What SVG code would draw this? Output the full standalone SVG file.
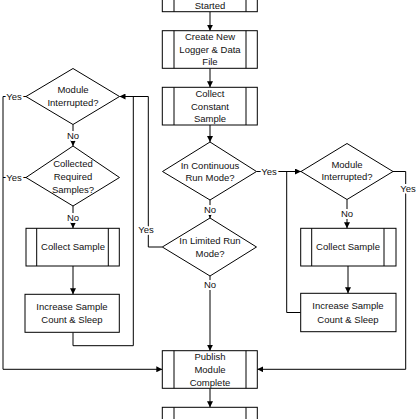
<svg xmlns="http://www.w3.org/2000/svg" width="419" height="419" viewBox="0 0 419 419">
<defs>
<marker id="ah" viewBox="0 0 10 10" refX="10" refY="5" markerWidth="6" markerHeight="6" orient="auto" markerUnits="userSpaceOnUse">
<path d="M0,0 L10,5 L0,10 z" fill="#000"/>
</marker>
<style>
.n{fill:#fff;stroke:#000;stroke-width:1}
.il{stroke:#000;stroke-width:1;fill:none}
.c{fill:none;stroke:#000;stroke-width:1}
.ca{fill:none;stroke:#000;stroke-width:1;marker-end:url(#ah)}
text{font-family:"Liberation Sans",Arial,sans-serif;font-size:9.5px;fill:#111;text-anchor:middle}
.lb{paint-order:stroke;stroke:#fff;stroke-width:4px;stroke-linejoin:round}
</style>
</defs>
<rect width="419" height="419" fill="#fff"/>
<g id="connectors">
<path class="ca" d="M210,11.7 V30.7"/>
<path class="ca" d="M210,68.3 V87.3"/>
<path class="ca" d="M210,125 V142"/>
<path class="ca" d="M210,200 V218"/>
<path class="ca" d="M210,276 V350.7"/>
<path class="ca" d="M210,388.3 V407.3"/>
<path class="ca" d="M162.3,247 H148.3 V96.5 H119.5"/>
<path class="c" d="M73,332.3 V345.7 H133.3 V96.5"/>
<path class="ca" d="M73,124.5 V146"/>
<path class="ca" d="M73,206 V228.3"/>
<path class="ca" d="M73,266 V294.3"/>
<path class="ca" d="M26,96.5 H3 V369.3 H162.3"/>
<path class="c" d="M26,177.5 H3"/>
<path class="ca" d="M256.5,171.5 H301"/>
<path class="c" d="M300.7,312.5 H286.7 V171.5"/>
<path class="ca" d="M347,199.5 V228.3"/>
<path class="ca" d="M348,266 V293.3"/>
<path class="ca" d="M393,171.5 H405.7 V369.3 H257.3"/>
</g>
<g id="labels">
<text class="lb" x="14" y="100">Yes</text>
<text class="lb" x="14" y="181">Yes</text>
<text class="lb" x="73" y="139">No</text>
<text class="lb" x="73" y="221">No</text>
<text class="lb" x="210" y="213">No</text>
<text class="lb" x="210" y="288">No</text>
<text class="lb" x="146" y="233">Yes</text>
<text class="lb" x="269" y="175">Yes</text>
<text class="lb" x="347" y="216.5">No</text>
<text class="lb" x="408" y="192">Yes</text>
</g>
<g id="started">
<rect class="n" x="162.3" y="-27" width="95" height="38.7"/>
<path class="il" d="M174,-27 V11.7 M246,-27 V11.7"/>
<text x="210" y="8.5">Started</text>
</g>
<g id="create-logger">
<rect class="n" x="162.3" y="30.7" width="95" height="37.6"/>
<path class="il" d="M174,30.7 V68.3 M246,30.7 V68.3"/>
<text x="210" y="40">Create New</text>
<text x="210" y="53">Logger &amp; Data</text>
<text x="210" y="65">File</text>
</g>
<g id="collect-constant">
<rect class="n" x="162.3" y="87.3" width="95" height="37.7"/>
<path class="il" d="M174,87.3 V125 M246,87.3 V125"/>
<text x="210" y="96.5">Collect</text>
<text x="210" y="109.5">Constant</text>
<text x="210" y="121.5">Sample</text>
</g>
<g id="continuous-mode">
<path class="n" d="M210,142 L256.5,171.5 L210,200 L162.5,171.5 Z"/>
<text x="210" y="169">In Continuous</text>
<text x="210" y="181">Run Mode?</text>
</g>
<g id="limited-mode">
<path class="n" d="M210,218 L256.5,247 L210,276 L162.3,247 Z"/>
<text x="210" y="244">In Limited Run</text>
<text x="210" y="256.5">Mode?</text>
</g>
<g id="left-interrupted">
<path class="n" d="M73,68.5 L119.5,96.5 L73,124.5 L26,96.5 Z"/>
<text x="73" y="93">Module</text>
<text x="73" y="106">Interrupted?</text>
</g>
<g id="collected-required">
<path class="n" d="M73,146 L119.5,177.5 L73,206 L26,177.5 Z"/>
<text x="73" y="166.5">Collected</text>
<text x="73" y="180">Required</text>
<text x="73" y="193">Samples?</text>
</g>
<g id="left-collect-sample">
<rect class="n" x="26" y="228.3" width="93.3" height="37.7"/>
<path class="il" d="M36.7,228.3 V266 M108.3,228.3 V266"/>
<text x="73" y="250">Collect Sample</text>
</g>
<g id="left-increase">
<rect class="n" x="25" y="294.3" width="94.3" height="38"/>
<text x="72" y="310">Increase Sample</text>
<text x="72" y="323">Count &amp; Sleep</text>
</g>
<g id="right-interrupted">
<path class="n" d="M347,143.5 L393,171.5 L347,199.5 L301,171.5 Z"/>
<text x="347" y="167.5">Module</text>
<text x="347" y="180">Interrupted?</text>
</g>
<g id="right-collect-sample">
<rect class="n" x="300.7" y="228.3" width="95.3" height="37.7"/>
<path class="il" d="M311.7,228.3 V266 M384,228.3 V266"/>
<text x="348" y="250">Collect Sample</text>
</g>
<g id="right-increase">
<rect class="n" x="300.7" y="293.3" width="95.3" height="38.4"/>
<text x="348" y="309">Increase Sample</text>
<text x="348" y="322.5">Count &amp; Sleep</text>
</g>
<g id="publish-complete">
<rect class="n" x="162.3" y="350.7" width="95" height="37.6"/>
<path class="il" d="M174,350.7 V388.3 M246,350.7 V388.3"/>
<text x="210" y="360">Publish</text>
<text x="210" y="373">Module</text>
<text x="210" y="386">Complete</text>
</g>
<g id="next-step">
<rect class="n" x="162.3" y="407.3" width="95" height="30"/>
<path class="il" d="M174,407.3 V437 M246,407.3 V437"/>
</g>
</svg>
